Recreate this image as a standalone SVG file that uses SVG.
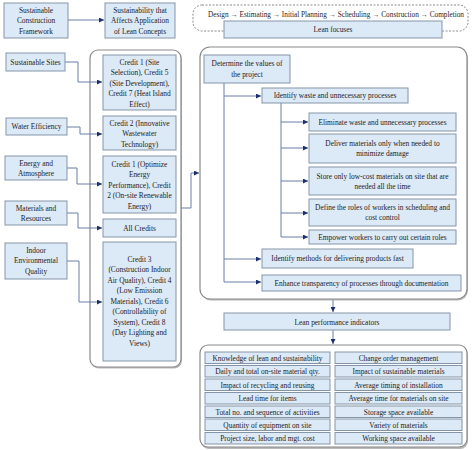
<svg xmlns="http://www.w3.org/2000/svg" width="474" height="450" viewBox="0 0 474 450">
<style>
  .box{fill:#dce9f6;stroke:#8595a8;stroke-width:1}
  .cont{fill:#ffffff;stroke:#8a8a8a;stroke-width:1.2}
  .sh{fill:#b9b9b9}
  .dash{fill:#ffffff;stroke:#8a8a8a;stroke-width:1;stroke-dasharray:2 1.5}
  .con{fill:none;stroke:#6b7fa6;stroke-width:1}
  .t{font-family:"Liberation Serif","Times New Roman",serif;font-size:7.4px;fill:#1e1e1e;text-anchor:middle}
</style>
<defs>
  <marker id="ah" viewBox="0 0 6 6" refX="6" refY="3" markerWidth="5" markerHeight="5" orient="auto" markerUnits="userSpaceOnUse">
    <path d="M0,0 L6,3 L0,6 Z" fill="#1c2f6e"/>
  </marker>
</defs>
<rect width="474" height="450" fill="#ffffff"/>

<!-- containers -->
<g id="left-container">
  <rect class="sh" x="91" y="51.5" width="91" height="317" rx="8"/>
  <rect class="cont" x="90" y="50" width="91" height="317" rx="8"/>
</g>
<g id="right-container">
  <rect class="sh" x="201" y="48.5" width="267" height="252" rx="10"/>
  <rect class="cont" x="200" y="47" width="267" height="252" rx="10"/>
</g>
<g id="top-dashed">
  <rect class="dash" x="193" y="5" width="275" height="26" rx="9"/>
  <text class="t" x="336" y="17" textLength="256" lengthAdjust="spacingAndGlyphs">Design → Estimating → Initial Planning → Scheduling → Construction → Completion</text>
</g>
<g id="bottom-container">
  <rect class="sh" x="201" y="347" width="267" height="102" rx="8"/>
  <rect class="cont" x="200" y="345" width="267" height="102" rx="8"/>
</g>

<!-- connectors -->
<g id="connectors">
  <path class="con" d="M68,20 H104" marker-end="url(#ah)"/>
  <path class="con" d="M65,62 H78 V82 H102" marker-end="url(#ah)"/>
  <path class="con" d="M67,127 H80 V134 H102" marker-end="url(#ah)"/>
  <path class="con" d="M67,168 H77 V184 H102" marker-end="url(#ah)"/>
  <path class="con" d="M67,213 H78 V228 H102" marker-end="url(#ah)"/>
  <path class="con" d="M67,261 H79 V302 H102" marker-end="url(#ah)"/>
  <path class="con" d="M181,208 H191 V173 H199" marker-end="url(#ah)"/>
  <path class="con" d="M224,83 V282 H261" marker-end="url(#ah)"/>
  <path class="con" d="M224,96 H261" marker-end="url(#ah)"/>
  <path class="con" d="M224,259 H261" marker-end="url(#ah)"/>
  <path class="con" d="M281,103 V237 H308" marker-end="url(#ah)"/>
  <path class="con" d="M281,122 H308" marker-end="url(#ah)"/>
  <path class="con" d="M281,148 H308" marker-end="url(#ah)"/>
  <path class="con" d="M281,181 H308" marker-end="url(#ah)"/>
  <path class="con" d="M281,213 H308" marker-end="url(#ah)"/>
  <path class="con" d="M333,300 V312" marker-end="url(#ah)"/>
  <path class="con" d="M333,330 V344" marker-end="url(#ah)"/>
</g>

<!-- left nodes -->
<g id="scf"><rect class="box" x="4" y="3" width="64" height="35"/>
  <text class="t" x="36" y="12.7">Sustainable</text><text class="t" x="36" y="23.2">Construction</text><text class="t" x="36" y="33.7">Framework</text></g>
<g id="saalc"><rect class="box" x="105" y="3" width="70" height="35"/>
  <text class="t" x="140" y="12.7">Sustainability that</text><text class="t" x="140" y="23.2">Affects Application</text><text class="t" x="140" y="33.7">of Lean Concepts</text></g>
<g id="ss"><rect class="box" x="6" y="53" width="59" height="18"/>
  <text class="t" x="35.5" y="64.5">Sustainable Sites</text></g>
<g id="we"><rect class="box" x="6" y="118" width="61" height="17"/>
  <text class="t" x="36.5" y="129">Water Efficiency</text></g>
<g id="ea"><rect class="box" x="5" y="156" width="62" height="24"/>
  <text class="t" x="36" y="165.5">Energy and</text><text class="t" x="36" y="176">Atmosphere</text></g>
<g id="mr"><rect class="box" x="5" y="201" width="62" height="24"/>
  <text class="t" x="36" y="210.5">Materials and</text><text class="t" x="36" y="221">Resources</text></g>
<g id="ieq"><rect class="box" x="5" y="243" width="62" height="36"/>
  <text class="t" x="36" y="252.5">Indoor</text><text class="t" x="36" y="263">Environmental</text><text class="t" x="36" y="273.5">Quality</text></g>

<!-- credit nodes -->
<g id="c1"><rect class="box" x="103" y="55" width="73" height="55"/>
  <text class="t" x="139.5" y="64.5">Credit 1 (Site</text><text class="t" x="139.5" y="75">Selection), Credit 5</text><text class="t" x="139.5" y="85.5">(Site Development),</text><text class="t" x="139.5" y="96">Credit 7 (Heat Island</text><text class="t" x="139.5" y="106.5">Effect)</text></g>
<g id="c2"><rect class="box" x="103" y="116" width="73" height="34"/>
  <text class="t" x="139.5" y="125.5">Credit 2 (Innovative</text><text class="t" x="139.5" y="136">Wastewater</text><text class="t" x="139.5" y="146.5">Technology)</text></g>
<g id="c1b"><rect class="box" x="103" y="156" width="73" height="57"/>
  <text class="t" x="139.5" y="166.5">Credit 1 (Optimize</text><text class="t" x="139.5" y="177">Energy</text><text class="t" x="139.5" y="187.5">Performance), Credit</text><text class="t" x="139.5" y="198">2 (On-site Renewable</text><text class="t" x="139.5" y="208.5">Energy)</text></g>
<g id="all"><rect class="box" x="103" y="219" width="73" height="18"/>
  <text class="t" x="139.5" y="230.5">All Credits</text></g>
<g id="c3"><rect class="box" x="103" y="242" width="73" height="119"/>
  <text class="t" x="139.5" y="261.5">Credit 3</text><text class="t" x="139.5" y="272">(Construction Indoor</text><text class="t" x="139.5" y="282.5">Air Quality), Credit 4</text><text class="t" x="139.5" y="293">(Low Emission</text><text class="t" x="139.5" y="303.5">Materials), Credit 6</text><text class="t" x="139.5" y="314">(Controllability of</text><text class="t" x="139.5" y="324.5">System), Credit 8</text><text class="t" x="139.5" y="335">(Day Lighting and</text><text class="t" x="139.5" y="345.5">Views)</text></g>

<!-- right nodes -->
<g id="lf"><rect class="box" x="224" y="21" width="218" height="17"/>
  <text class="t" x="333" y="32">Lean focuses</text></g>
<g id="det"><rect class="box" x="204" y="55" width="86" height="28"/>
  <text class="t" x="247" y="66">Determine the values of</text><text class="t" x="247" y="76.5">the project</text></g>
<g id="iw"><rect class="box" x="262" y="88" width="146" height="15"/>
  <text class="t" x="335" y="98.3">Identify waste and unnecessary processes</text></g>
<g id="el"><rect class="box" x="309" y="113" width="147" height="18"/>
  <text class="t" x="382.5" y="124.5">Eliminate waste and unnecessary processes</text></g>
<g id="dm"><rect class="box" x="309" y="134" width="147" height="29"/>
  <text class="t" x="382.5" y="145.5">Deliver materials only when needed to</text><text class="t" x="382.5" y="155.5">minimize damage</text></g>
<g id="st"><rect class="box" x="309" y="167" width="147" height="28"/>
  <text class="t" x="382.5" y="178.5">Store only low-cost materials on site that are</text><text class="t" x="382.5" y="189">needed all the time</text></g>
<g id="df"><rect class="box" x="309" y="199" width="147" height="27"/>
  <text class="t" x="382.5" y="209.5">Define the roles of workers in scheduling and</text><text class="t" x="382.5" y="219.5">cost control</text></g>
<g id="em"><rect class="box" x="309" y="230" width="147" height="14"/>
  <text class="t" x="382.5" y="239.5">Empower workers to carry out certain roles</text></g>
<g id="im"><rect class="box" x="262" y="249" width="151" height="19"/>
  <text class="t" x="337.5" y="261">Identify methods for delivering products fast</text></g>
<g id="en"><rect class="box" x="262" y="275" width="199" height="16"/>
  <text class="t" x="361.5" y="285.5">Enhance transparency of processes through documentation</text></g>
<g id="lpi"><rect class="box" x="224" y="313" width="226" height="17"/>
  <text class="t" x="337" y="324.5">Lean performance indicators</text></g>

<!-- indicators -->
<g id="ind-l1"><rect class="box" x="205" y="352" width="125" height="11.5"/><text class="t" x="267.5" y="360.5">Knowledge of lean and sustainability</text></g>
<g id="ind-r1"><rect class="box" x="335" y="352" width="127" height="11.5"/><text class="t" x="398.5" y="360.5">Change order management</text></g>
<g id="ind-l2"><rect class="box" x="205" y="365.5" width="125" height="11.5"/><text class="t" x="267.5" y="374">Daily and total on-site material qty.</text></g>
<g id="ind-r2"><rect class="box" x="335" y="365.5" width="127" height="11.5"/><text class="t" x="398.5" y="374">Impact of sustainable materials</text></g>
<g id="ind-l3"><rect class="box" x="205" y="379" width="125" height="11.5"/><text class="t" x="267.5" y="387.5">Impact of recycling and reusing</text></g>
<g id="ind-r3"><rect class="box" x="335" y="379" width="127" height="11.5"/><text class="t" x="398.5" y="387.5">Average timing of installation</text></g>
<g id="ind-l4"><rect class="box" x="205" y="392.5" width="125" height="11.5"/><text class="t" x="267.5" y="401">Lead time for items</text></g>
<g id="ind-r4"><rect class="box" x="335" y="392.5" width="127" height="11.5"/><text class="t" x="398.5" y="401">Average time for materials on site</text></g>
<g id="ind-l5"><rect class="box" x="205" y="406" width="125" height="11.5"/><text class="t" x="267.5" y="414.5">Total no. and sequence of activities</text></g>
<g id="ind-r5"><rect class="box" x="335" y="406" width="127" height="11.5"/><text class="t" x="398.5" y="414.5">Storage space available</text></g>
<g id="ind-l6"><rect class="box" x="205" y="419" width="125" height="11.5"/><text class="t" x="267.5" y="427.5">Quantity of equipment on site</text></g>
<g id="ind-r6"><rect class="box" x="335" y="419" width="127" height="11.5"/><text class="t" x="398.5" y="427.5">Variety of materials</text></g>
<g id="ind-l7"><rect class="box" x="205" y="432.5" width="125" height="11.5"/><text class="t" x="267.5" y="441">Project size, labor and mgt. cost</text></g>
<g id="ind-r7"><rect class="box" x="335" y="432.5" width="127" height="11.5"/><text class="t" x="398.5" y="441">Working space available</text></g>
</svg>
